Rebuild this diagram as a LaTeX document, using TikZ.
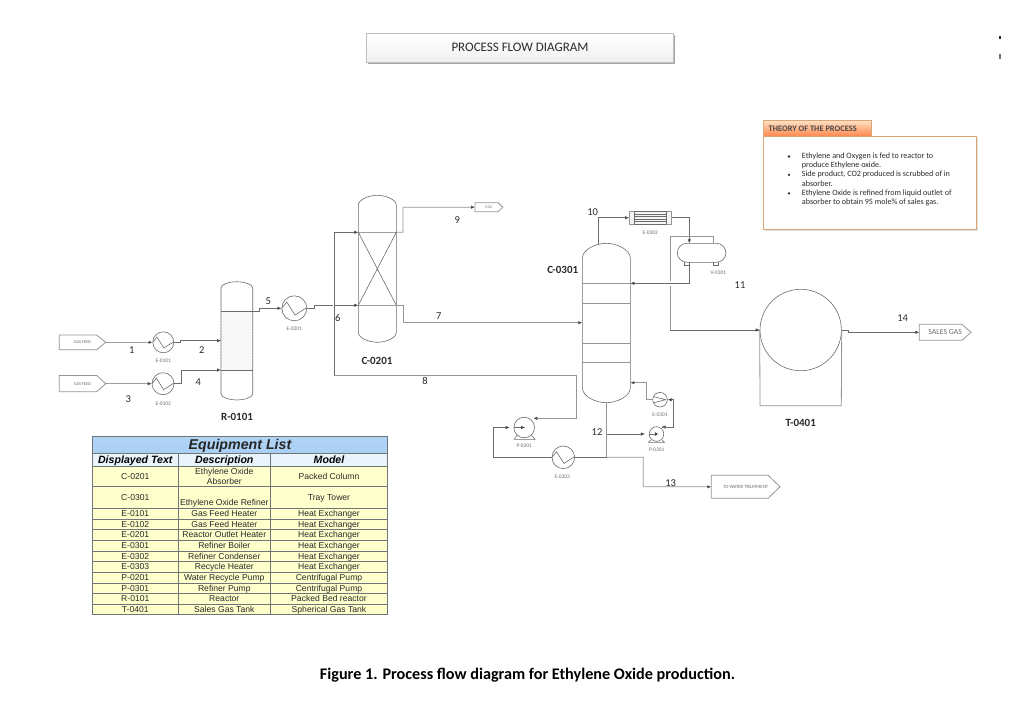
\documentclass[tikz,border=0pt]{standalone}
\usepackage{fontspec}
\setmainfont{Carlito}
\newfontfamily\arialfont{Liberation Sans}
\usetikzlibrary{arrows.meta,shadings,patterns}
\definecolor{ln}{HTML}{6C6C6C}
\definecolor{lnd}{HTML}{4A4A4A}
\definecolor{lnl}{HTML}{959595}
\definecolor{txt}{HTML}{2A2A2A}
\definecolor{tblline}{HTML}{70757A}
\definecolor{tblyel}{HTML}{FFFFCC}
\definecolor{tblblue}{HTML}{A9CFF3}
\definecolor{tblpale}{HTML}{E9F4FC}
\definecolor{orbd}{HTML}{D9A777}
\tikzset{
 pipe/.style={draw=ln,line width=.6pt},
 pipel/.style={draw=lnl,line width=.8pt},
 flow/.style={pipe,-{Latex[length=4pt,width=3.4pt,color=lnd]}},
 flowl/.style={pipel,-{Latex[length=4pt,width=3.4pt,color=lnd]}},
 shell/.style={draw=ln,line width=.6pt},
 tag/.style={font=\fontsize{5.4}{6}\selectfont,text=ln,inner sep=0pt},
 num/.style={font=\fontsize{10.5}{12}\selectfont,text=txt,inner sep=0pt},
 ename/.style={font=\bfseries\fontsize{11}{12}\selectfont,text=txt,inner sep=0pt},
 hx/.style={circle,draw=ln,line width=.6pt,minimum size=#1,inner sep=0pt,
   path picture={\draw[ln,line width=.6pt] ([xshift=-.5*#1]path picture bounding box.center)
     -- ++(.2*#1,.25*#1) -- ++(.33*#1,-.52*#1) -- ++(.47*#1,.3*#1);}},
 pumpc/.style={circle,draw=ln,line width=.6pt,minimum size=#1,inner sep=0pt},
 cell/.style={font=\arialfont\fontsize{8.6}{10}\selectfont,text=txt,inner sep=0pt,text height=5.9pt,text depth=.3pt},
 chead/.style={font=\arialfont\bfseries\itshape\fontsize{10.6}{12}\selectfont,text=black,inner sep=0pt,text height=7.6pt,text depth=.6pt},
}
% plate{name}{x1}{x2}{ytop}{ybot}{tip}{text}{font size}
\newcommand{\plate}[8]{%
 \pgfmathsetlengthmacro{\pw}{(#3)-(#2)}\pgfmathsetlengthmacro{\ph}{(#5)-(#4)}%
 \node[inner sep=0pt,outer sep=0pt,minimum width=\pw,minimum height=\ph,font=\fontsize{#8}{#8}\selectfont,text=ln] (#1) at ({((#2)+(#3))/2},{((#4)+(#5))/2}) {#7};
 \draw[draw=lnl,line width=.8pt] (#1.north west) -- ([xshift=-#6pt]#1.north east) -- (#1.east) -- ([xshift=-#6pt]#1.south east) -- (#1.south west) -- cycle;}
% vessel{name}{x1}{x2}{ytop}{ybot}{dome height}
\newcommand{\vessel}[6]{%
 \pgfmathsetlengthmacro{\pw}{(#3)-(#2)}\pgfmathsetlengthmacro{\ph}{(#5)-(#4)}%
 \node[inner sep=0pt,outer sep=0pt,minimum width=\pw,minimum height=\ph] (#1) at ({((#2)+(#3))/2},{((#4)+(#5))/2}) {};
 \draw[shell] ([yshift=-#6pt]#1.north west)
   .. controls ([yshift=-.42*#6pt]#1.north west) and ([xshift=-.22*\pw]#1.north) .. (#1.north)
   .. controls ([xshift=.22*\pw]#1.north) and ([yshift=-.42*#6pt]#1.north east) .. ([yshift=-#6pt]#1.north east)
   -- ([yshift=#6pt]#1.south east)
   .. controls ([yshift=.42*#6pt]#1.south east) and ([xshift=.22*\pw]#1.south) .. (#1.south)
   .. controls ([xshift=-.22*\pw]#1.south) and ([yshift=.42*#6pt]#1.south west) .. ([yshift=#6pt]#1.south west)
   -- cycle;}
\newcounter{rowc}
\newcommand{\trow}[5]{%
 \stepcounter{rowc}%
 \node[cell] (ta\therowc) at (135.3,{((#1)+(#2))/2}) {#3};
 \node[cell] (tb\therowc) at (224.3,{((#1)+(#2))/2}) {#4};
 \node[cell] (tc\therowc) at (329,{((#1)+(#2))/2}) {#5};}
\begin{document}
\begin{tikzpicture}[x=1pt,y=-1pt]
\useasboundingbox (0,0) rectangle (1024,707);
\fill[white] (0,0) rectangle (1024,707);

% ---------- title
\fill[black!35] (368,35) rectangle (674.5,63.5);
\shade[top color=white,bottom color=black!6,draw=black!25,line width=.5pt] (366.7,33.3) rectangle (673.3,62.5);
\node[font=\fontsize{13}{15}\selectfont,text=txt,inner sep=0pt] (title) at (520,47.5) {PROCESS FLOW DIAGRAM};

% ---------- theory box
\fill[black!12] (764.5,137.5) rectangle (977.7,230.5);
\draw[orbd,fill=white,line width=.7pt] (763.3,136.3) rectangle (976.7,229.3);
\shade[top color=orange!22,bottom color=orange!65!red!70!white,draw=orbd,line width=.4pt] (763.3,120) rectangle (870.7,136.3);
\node[font=\bfseries\fontsize{8.4}{9}\selectfont,text=txt!85,inner sep=0pt,anchor=west] (theoryh) at (768.5,128.5) {THEORY OF THE PROCESS};
\foreach \yy/\tt/\nn in {156.3/Ethylene and Oxygen is fed to reactor to/a,165.5/produce Ethylene oxide./b,174.7/{Side product, CO2 produced is scrubbed of in}/c,183.9/absorber./d,193.2/Ethylene Oxide is refined from liquid outlet of/e,202.6/absorber to obtain 95 mole\% of sales gas./f}
  \node[font=\fontsize{8.1}{9}\selectfont,text=txt,inner sep=0pt,anchor=west] (th\nn) at (801.7,\yy) {\tt};
\fill[txt] (789,156.5) circle (1.3pt) (789,174.9) circle (1.3pt) (789,193.4) circle (1.3pt);

% ---------- side marks
\fill[black!85] (999.4,35.6) rectangle (1001.2,39.4);
\fill[black!55] (999.4,54) rectangle (1001.2,58.6);

% ---------- feeds
\plate{gf1}{59.3}{105.7}{335}{349.7}{9}{GAS FEED}{4.4}
\plate{gf2}{59.3}{105.7}{375.5}{391.7}{9}{GAS FEED}{4.4}
\node[hx=21pt] (e0101) at (163.3,342.3) {};
\node[hx=22pt] (e0102) at (163,383.7) {};
\node[tag] (e0101t) at (163.3,360.7) {E-0101};
\node[tag] (e0102t) at (163.3,403.3) {E-0102};

% ---------- reactor
\vessel{r0101}{221}{252.7}{281.7}{400}{6}
\fill[pattern=north east lines,pattern color=black!8] (221.3,311.3) rectangle (252.4,370);
\coordinate (rt) at (252.7,311.3);
\coordinate (rtl) at (221,311.3);
\coordinate (rb) at (221,370);
\coordinate (rbr) at (252.7,370);
\coordinate (ri) at (221,340.7);
\draw[shell] (rtl) -- (rt) (rb) -- (rbr);
\node[ename] (r0101t) at (237,416.7) {R-0101};

\draw[flow] (gf1.east) -- (e0101.west);
\draw[flow] (gf2.east) -- (e0102.west);
\draw[flow] (e0101.east) -- (180,342.3) -- (180,340.7) -- (ri);
\draw[flow] (e0102.east) -- (181.3,383.7) -- (181.3,370) -- (rb);

% ---------- E-0201
\node[hx=25pt] (e0201) at (294.3,308.3) {};
\node[tag] (e0201t) at (294.3,329) {E-0201};
\draw[flow] (rt) -- (259.3,311.3) -- (259.3,308.3) -- (e0201.west);
\coordinate (gapend) at (332.7,305.3);
\draw[pipe] (e0201.east) -- (314,308.3) -- (314,305.3) -- (gapend);

% ---------- absorber
\vessel{c0201}{358.3}{396.3}{195.3}{342.3}{10}
\coordinate (ctl) at (358.3,232.3);
\coordinate (ctr) at (396.3,232.3);
\coordinate (cbl) at (358.3,305.3);
\coordinate (cbr) at (396.3,305.3);
\draw[shell] (ctl) -- (ctr) (cbl) -- (cbr) (ctl) -- (cbr) (ctr) -- (cbl);
\node[ename] (c0201t) at (377,360.7) {C-0201};
\coordinate (j6t) at (334.3,232.3);
\coordinate (j6b) at (334.3,305.3);
\coordinate (j8) at (334.3,375.3);
\draw[flow] (j6t) -- (ctl);
\draw[flow] (j6b) -- (cbl);
\plate{co2}{475}{502.7}{202.7}{211.7}{4.5}{CO2}{4}
\draw[flowl] (ctr) -- (403,232.3) -- (403,207.3) -- (co2.west);

% ---------- refiner
\vessel{c0301}{582.3}{630.3}{243.3}{402.7}{15}
\foreach \yy in {283.3,303.3,343.3,362.7} \draw[lnl,line width=.5pt] (582.3,\yy) -- (630.3,\yy);
\node[ename] (c0301t) at (562.7,270.3) {C-0301};
\coordinate (f7) at (582.3,322.7);
\coordinate (reflux) at (630.3,283.3);
\coordinate (reb) at (630.3,382.7);
\coordinate (cout) at (598.3,244);
\coordinate (cbot) at (606.7,402.7);
\draw[flowl] (cbr) -- (403,305.3) -- (403,322.7) -- (f7);

% condenser
\node[draw=lnl,fill=black!4,line width=.6pt,minimum width=42.4pt,minimum height=13.3pt,inner sep=0pt] (e0302) at (650.5,217.7) {};
\draw[ln,line width=.45pt] (634,211) rectangle (666.7,224.3);
\foreach \yy in {214.2,216.6,219,221.4} \draw[ln,line width=.45pt] (634,\yy) -- (666.7,\yy);
\node[tag] (e0302t) at (650.3,232.7) {E-0302};
\draw[flow] (cout) -- (598.3,217.7) -- (e0302.west);
% drum
\node[draw=ln,line width=.6pt,rounded corners=9.5pt,minimum width=48.6pt,minimum height=19pt,inner sep=0pt] (v0301) at (701.6,252.8) {};
\draw[shell] (684.3,262.3) -- (684.3,265.7) -- (689.3,265.7) -- (689.3,262.3);
\draw[shell] (713.3,262.3) -- (713.3,265.7) -- (718.3,265.7) -- (718.3,262.3);
\node[tag] (v0301t) at (718.3,272.3) {V-0301};
\coordinate (vbot) at (689.3,265.7);
\coordinate (vtop) at (713.3,243.3);
\coordinate (vin) at (689.3,243.3);
\draw[flow] (e0302.east) -- (689.3,217.7) -- (vin);

% ---------- tank
\node[circle,draw=ln,line width=.6pt,minimum size=81.4pt,inner sep=0pt] (t0401) at (800.7,330) {};
\draw[pipel] (t0401.west) -- (760,405.7) -- (841.3,405.7) -- (t0401.east);
\node[ename] (t0401t) at (800.7,422.7) {T-0401};
\draw[pipel] (vtop) -- (713.3,236.7) -- (670.3,236.7) -- (670.3,330) -- (t0401.west);
\draw[flow] (670.3,330) -- (t0401.west);
\fill[white] (668,281) rectangle (672.6,285.6);
\draw[flow] (vbot) -- (689.3,283.3) -- (reflux);
\plate{sales}{919.3}{971}{324.3}{340.3}{9}{SALES GAS}{7.8}
\draw[flow] (t0401.east) -- (848.3,330) -- (848.3,332.3) -- (sales.west);

% ---------- reboiler circuit
\node[circle,draw=ln,line width=.6pt,minimum size=14.6pt,inner sep=0pt,
  path picture={\draw[ln,line width=.6pt] (-6,-3) -- (5.5,0) -- (-6,3);}] (e0301) at (660,399.7) {};
\node[tag] (e0301t) at (660,414.7) {E-0301};
\node[pumpc=14.6pt] (p0301) at (656.5,434) {};
\draw[shell] (651,440) -- (648.5,442.3) -- (664.5,442.3) -- (662,440);
\node[tag] (p0301t) at (656.7,449.7) {P-0301};
\node[pumpc=20.6pt] (p0201) at (524.2,427.5) {};
\draw[shell] (517,435.3) -- (514.3,439.3) -- (535,439.3) -- (531.5,435.3);
\node[tag] (p0201t) at (524.3,446) {P-0201};
\node[hx=22.6pt] (e0303) at (563.3,457.3) {};
\node[tag] (e0303t) at (562.3,476.7) {E-0303};
\plate{water}{711.3}{780}{475.3}{498.3}{12}{TO WATER TREATMENT}{4.8}

\coordinate (jb) at (606.7,434);
\coordinate (jm) at (606.7,457.3);
\draw[pipel] (cbot) -- (jm);
\draw[flow] (jb) -- ([xshift=-4pt]p0301.west);
\draw[pipe] (p0301.west) -- (p0301.center);
\coordinate (pout3) at (661.5,427);
\draw[flow] (673.5,427) -- (pout3);
\draw[flow] (pout3) -- (673.5,427) -- (673.5,399.7) -- (e0301.east);
\draw[flowl] (e0301.west) -- (646.7,399.7) -- (646.7,382.7) -- (reb);
\draw[pipe] (jm) -- (e0303.east);
\draw[flow] (e0303.west) -- (493.3,457.3) -- (493.3,427.5) -- ([xshift=-4pt]p0201.west);
\draw[flow] (p0201.west) -- ([xshift=1pt]p0201.center);
\draw[flowl] (jm) -- (643.3,457.3) -- (643.3,486.7) -- (water.west);
\fill[lnd] ([xshift=1.5pt]p0301.center) -- ++(-3,-2) -- ++(0,4) -- cycle;

% recycle (6-8)
\draw[pipe] (j6t) -- (j8);
\coordinate (d1) at (576.7,375.3);
\coordinate (d2) at (576.7,418.3);
\coordinate (pout2) at (533.3,418.3);
\draw[flowl,line width=.7pt] (j8) -- (d1) -- (d2) -- (pout2);

% ---------- stream numbers
\node[num] (n1) at (131.7,350) {1};
\node[num] (n2) at (201.7,350) {2};
\node[num] (n3) at (128.3,399) {3};
\node[num] (n4) at (198.3,381.7) {4};
\node[num] (n5) at (268.3,300.7) {5};
\node[num] (n6) at (337.7,317.7) {6};
\node[num] (n7) at (438.7,315.7) {7};
\node[num] (n8) at (425,381.3) {8};
\node[num] (n9) at (457.3,220.3) {9};
\node[num] (n10) at (592.7,212.3) {10};
\node[num] (n11) at (740,285) {11};
\node[num] (n12) at (597,432.3) {12};
\node[num] (n13) at (670.7,483.3) {13};
\node[num] (n14) at (902.7,318.3) {14};

% ---------- equipment table
\shade[top color=tblblue!90,bottom color=tblblue,draw=none] (92.3,436.7) rectangle (387.7,453.3);
\fill[tblpale] (92.3,453.3) rectangle (387.7,466);
\fill[tblyel] (92.3,466) rectangle (387.7,614.3);
\foreach \yy in {466,486.7,508.3,519,529.7,540.3,551,561.7,572.3,583,593.7,604.3}
  \draw[tblline,line width=.5pt] (92.3,\yy) -- (387.7,\yy);
\node[font=\arialfont\bfseries\itshape\fontsize{14.2}{16}\selectfont,text=black!85,inner sep=0pt,text height=10.2pt,text depth=.8pt] (eqt) at (240,445) {Equipment List};
\node[chead] (h1) at (135.3,460) {Displayed Text};
\node[chead] (h2) at (224.3,460) {Description};
\node[chead] (h3) at (329,460) {Model};
\trow{466}{486.7}{C-0201}{}{Packed Column}
\node[cell] (tb1x) at (224.3,471.7) {Ethylene Oxide};
\node[cell] (tb1y) at (224.3,481.7) {Absorber};
\trow{486.7}{508.3}{C-0301}{}{Tray Tower}
\node[cell] (tb2x) at (224.3,503) {Ethylene Oxide Refiner};
\trow{508.3}{519}{E-0101}{Gas Feed Heater}{Heat Exchanger}
\trow{519}{529.7}{E-0102}{Gas Feed Heater}{Heat Exchanger}
\trow{529.7}{540.3}{E-0201}{Reactor Outlet Heater}{Heat Exchanger}
\trow{540.3}{551}{E-0301}{Refiner Boiler}{Heat Exchanger}
\trow{551}{561.7}{E-0302}{Refiner Condenser}{Heat Exchanger}
\trow{561.7}{572.3}{E-0303}{Recycle Heater}{Heat Exchanger}
\trow{572.3}{583}{P-0201}{Water Recycle Pump}{Centrifugal Pump}
\trow{583}{593.7}{P-0301}{Refiner Pump}{Centrifugal Pump}
\trow{593.7}{604.3}{R-0101}{Reactor}{Packed Bed reactor}
\trow{604.3}{614.3}{T-0401}{Sales Gas Tank}{Spherical Gas Tank}
\draw[tblline,line width=.5pt] (178.3,453.3) -- (178.3,614.3) (270.3,453.3) -- (270.3,614.3);
\draw[tblline,line width=.9pt] (92.3,453.3) -- (387.7,453.3);
\draw[tblline,line width=1pt] (92.3,436.7) rectangle (387.7,614.3);

% ---------- caption
\node[font=\bfseries\fontsize{16.2}{18}\selectfont,text=black,inner sep=0pt] (cap) at (527.5,675) {Figure 1. Process flow diagram for Ethylene Oxide production.};
\end{tikzpicture}
\end{document}
